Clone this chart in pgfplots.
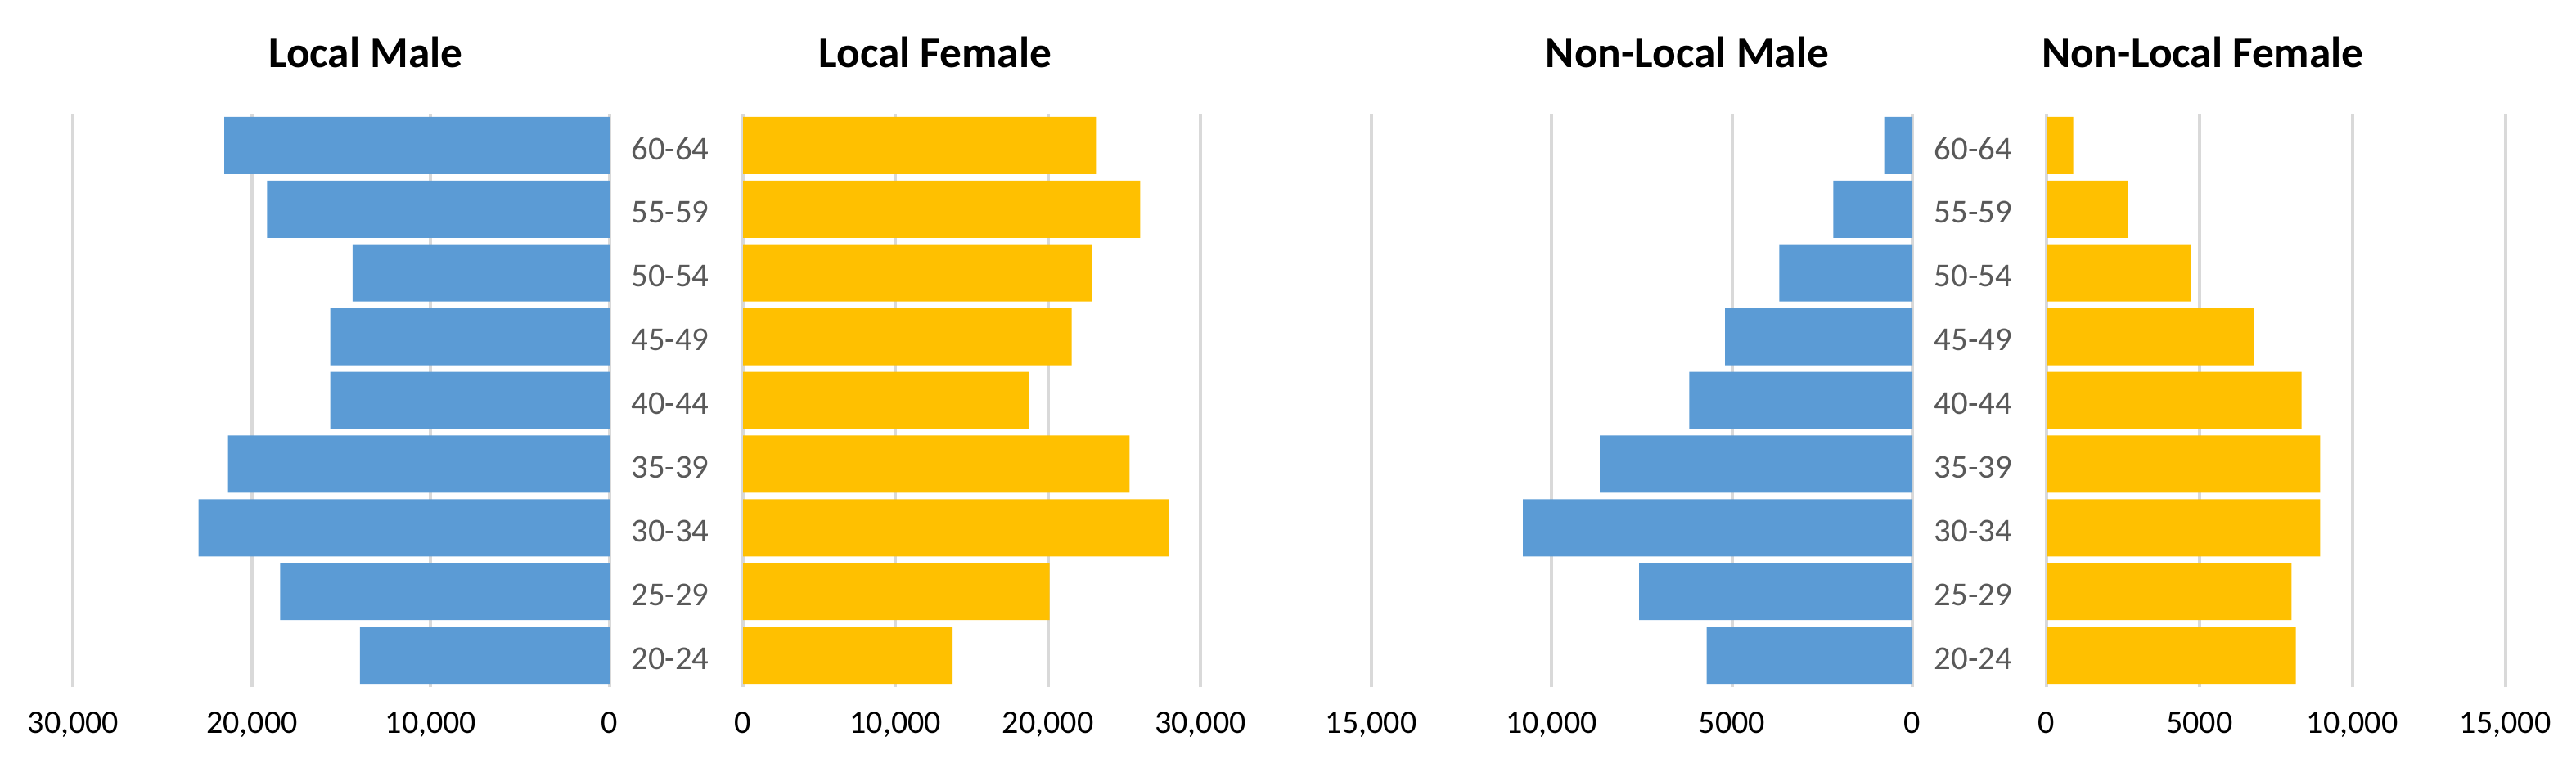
\documentclass[border=0pt]{standalone}
\usepackage{pgfplots}
\pgfplotsset{compat=1.18}
\usepackage{fontspec}
\setmainfont{Carlito}
\definecolor{mblue}{HTML}{5B9BD5}
\definecolor{fgold}{HTML}{FFC000}
\definecolor{gridgray}{HTML}{D9D9D9}
\definecolor{labgray}{HTML}{595959}

\pgfplotsset{
  pyr/.style={
    xbar, scale only axis, height=70.1mm, anchor=south west,
    ymin=-0.5, ymax=8.5, ytick={0,...,8},
    bar width=7mm,
    scaled x ticks=false, scaled y ticks=false,
    axis line style={draw=none},
    major tick style={draw=none},
    xmajorgrids, ymajorgrids=false,
    major grid style={draw=gridgray, line width=0.4mm},
    xticklabel style={font=\fontsize{11.4}{13}\selectfont, text=black, yshift=-1.8mm},
    yticklabel style={anchor=center, font=\fontsize{11.6}{13}\selectfont, text=labgray, yshift=-0.4mm},
    /pgf/number format/assume math mode=true,
    clip=false,
  },
}

\begin{document}
\begin{tikzpicture}
\path[use as bounding box] (0,0) rectangle (314.8mm,94.9mm);

% Local Male
\begin{axis}[pyr, at={(8.95mm,10.9mm)}, width=65.55mm, x dir=reverse,
  xmin=0, xmax=30000, xtick={0,10000,20000,30000},
  xticklabels={0,{10,000},{20,000},{30,000}}, yticklabels={}]
\addplot[fill=mblue, draw=none] coordinates {
(13960,0) (18430,1) (22990,2) (21340,3) (15620,4) (15620,5) (14380,6) (19160,7) (21550,8)};
\end{axis}

% Local Female
\begin{axis}[pyr, at={(90.8mm,10.9mm)}, width=55.9mm,
  xmin=0, xmax=30000, xtick={0,10000,20000,30000},
  xticklabels={0,{10,000},{20,000},{30,000}},
  yticklabels={20-24,25-29,30-34,35-39,40-44,45-49,50-54,55-59,60-64},
  yticklabel style={xshift=-7.4mm}]
\addplot[fill=fgold, draw=none] coordinates {
(13750,0) (20100,1) (27900,2) (25350,3) (18780,4) (21550,5) (22900,6) (26050,7) (23150,8)};
\end{axis}

% Non-Local Male
\begin{axis}[pyr, at={(167.55mm,10.9mm)}, width=66.15mm, x dir=reverse,
  xmin=0, xmax=15000, xtick={0,5000,10000,15000},
  xticklabels={0,5000,{10,000},{15,000}}, yticklabels={}]
\addplot[fill=mblue, draw=none] coordinates {
(5700,0) (7570,1) (10790,2) (8660,3) (6180,4) (5190,5) (3690,6) (2190,7) (780,8)};
\end{axis}

% Non-Local Female
\begin{axis}[pyr, at={(250.1mm,10.9mm)}, width=56.05mm,
  xmin=0, xmax=15000, xtick={0,5000,10000,15000},
  xticklabels={0,5000,{10,000},{15,000}},
  yticklabels={20-24,25-29,30-34,35-39,40-44,45-49,50-54,55-59,60-64},
  yticklabel style={xshift=-7.45mm}]
\addplot[fill=fgold, draw=none] coordinates {
(8150,0) (8010,1) (8950,2) (8950,3) (8340,4) (6790,5) (4720,6) (2650,7) (870,8)};
\end{axis}

\tikzset{ttl/.style={anchor=base, font=\bfseries\fontsize{15.2}{18}\selectfont}}
\node[ttl] at (44.7mm,86.6mm) {Local Male};
\node[ttl] at (114.3mm,86.6mm) {Local Female};
\node[ttl] at (206.2mm,86.6mm) {Non-Local Male};
\node[ttl] at (269.2mm,86.6mm) {Non-Local Female};
\end{tikzpicture}
\end{document}
